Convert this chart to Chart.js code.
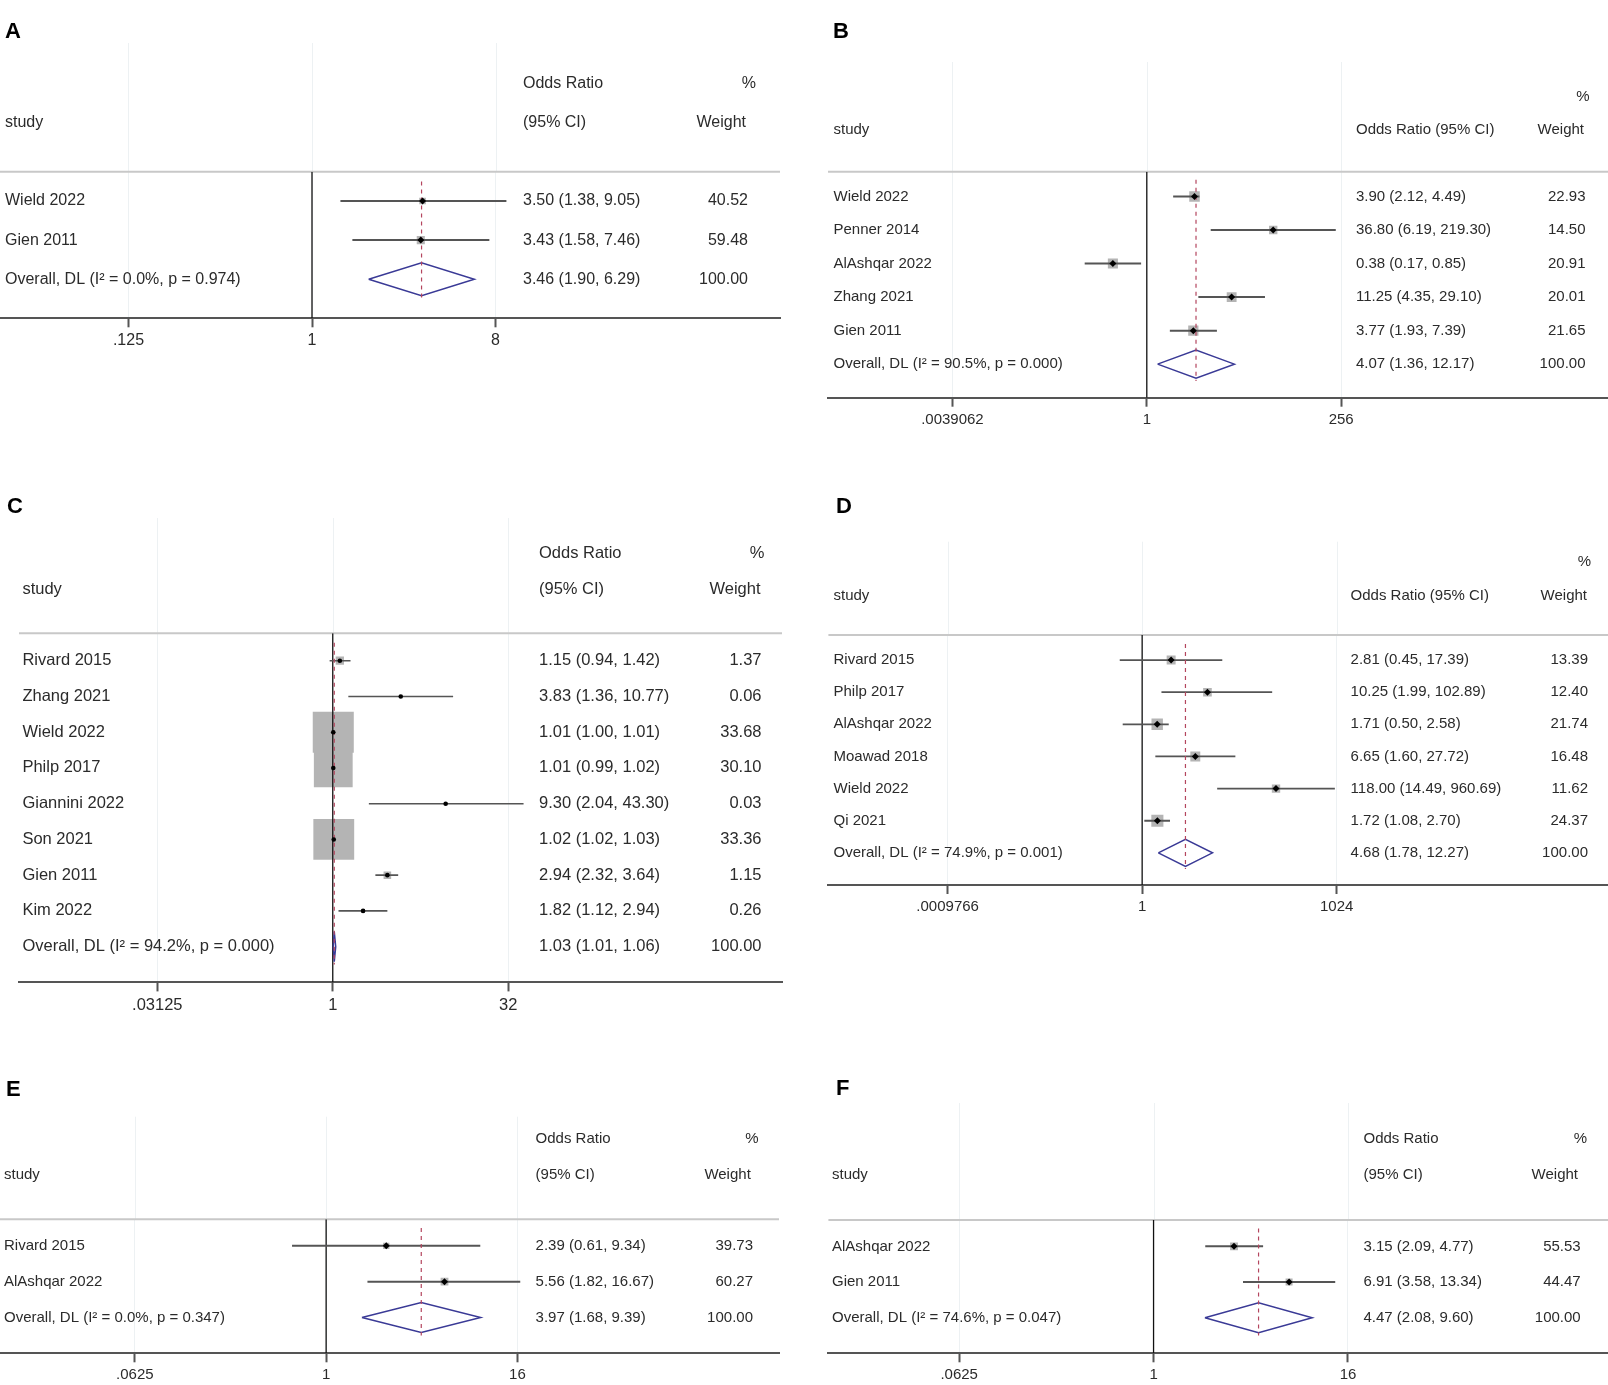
<!DOCTYPE html>
<html>
<head>
<meta charset="utf-8">
<script src="https://cdn.jsdelivr.net/npm/chart.js@4.4.0/dist/chart.umd.min.js"></script>
<style>
  html, body { margin: 0; padding: 0; background: #fff; }
  body { width: 1608px; height: 1385px; position: relative; overflow: hidden; }
  .panel { position: absolute; }
  .panel canvas { display: block; }
</style>
</head>
<body>
<div class="panel" id="pA"><canvas id="chartA"></canvas></div>
<div class="panel" id="pB"><canvas id="chartB"></canvas></div>
<div class="panel" id="pC"><canvas id="chartC"></canvas></div>
<div class="panel" id="pD"><canvas id="chartD"></canvas></div>
<div class="panel" id="pE"><canvas id="chartE"></canvas></div>
<div class="panel" id="pF"><canvas id="chartF"></canvas></div>
<script>
// ---- data ----
var studiesA = ['Wield 2022', 'Gien 2011'];
var orA = [3.50, 3.43];
var lowA = [1.38, 1.58];
var highA = [9.05, 7.46];
var weightA = [40.52, 59.48];
var overallA = [3.46, 1.90, 6.29];
var overallLabelA = 'Overall, DL (I\u00b2 = 0.0%, p = 0.974)';
var ticksA = [0.125, 1, 8];
var tickLabelsA = ['.125', '1', '8'];

var studiesB = ['Wield 2022', 'Penner 2014', 'AlAshqar 2022', 'Zhang 2021', 'Gien 2011'];
var orB = [3.90, 36.80, 0.38, 11.25, 3.77];
var lowB = [2.12, 6.19, 0.17, 4.35, 1.93];
var highB = [4.49, 219.30, 0.85, 29.10, 7.39];
var weightB = [22.93, 14.50, 20.91, 20.01, 21.65];
var overallB = [4.07, 1.36, 12.17];
var overallLabelB = 'Overall, DL (I\u00b2 = 90.5%, p = 0.000)';
var ticksB = [0.00390625, 1, 256];
var tickLabelsB = ['.0039062', '1', '256'];

var studiesC = ['Rivard 2015', 'Zhang 2021', 'Wield 2022', 'Philp 2017', 'Giannini 2022', 'Son 2021', 'Gien 2011', 'Kim 2022'];
var orC = [1.15, 3.83, 1.01, 1.01, 9.30, 1.02, 2.94, 1.82];
var lowC = [0.94, 1.36, 1.00, 0.99, 2.04, 1.02, 2.32, 1.12];
var highC = [1.42, 10.77, 1.01, 1.02, 43.30, 1.03, 3.64, 2.94];
var weightC = [1.37, 0.06, 33.68, 30.10, 0.03, 33.36, 1.15, 0.26];
var overallC = [1.03, 1.01, 1.06];
var overallLabelC = 'Overall, DL (I\u00b2 = 94.2%, p = 0.000)';
var ticksC = [0.03125, 1, 32];
var tickLabelsC = ['.03125', '1', '32'];

var studiesD = ['Rivard 2015', 'Philp 2017', 'AlAshqar 2022', 'Moawad 2018', 'Wield 2022', 'Qi 2021'];
var orD = [2.81, 10.25, 1.71, 6.65, 118.00, 1.72];
var lowD = [0.45, 1.99, 0.50, 1.60, 14.49, 1.08];
var highD = [17.39, 102.89, 2.58, 27.72, 960.69, 2.70];
var weightD = [13.39, 12.40, 21.74, 16.48, 11.62, 24.37];
var overallD = [4.68, 1.78, 12.27];
var overallLabelD = 'Overall, DL (I\u00b2 = 74.9%, p = 0.001)';
var ticksD = [0.0009765625, 1, 1024];
var tickLabelsD = ['.0009766', '1', '1024'];

var studiesE = ['Rivard 2015', 'AlAshqar 2022'];
var orE = [2.39, 5.56];
var lowE = [0.61, 1.82];
var highE = [9.34, 16.67];
var weightE = [39.73, 60.27];
var overallE = [3.97, 1.68, 9.39];
var overallLabelE = 'Overall, DL (I\u00b2 = 0.0%, p = 0.347)';
var ticksE = [0.0625, 1, 16];
var tickLabelsE = ['.0625', '1', '16'];

var studiesF = ['AlAshqar 2022', 'Gien 2011'];
var orF = [3.15, 6.91];
var lowF = [2.09, 3.58];
var highF = [4.77, 13.34];
var weightF = [55.53, 44.47];
var overallF = [4.47, 2.08, 9.60];
var overallLabelF = 'Overall, DL (I\u00b2 = 74.6%, p = 0.047)';
var ticksF = [0.0625, 1, 16];
var tickLabelsF = ['.0625', '1', '16'];

// ---- layout of each panel (page pixels) ----
var twoLineHead = function (y1, y2, xs, xo, xpct, xw) {
  return [['Odds Ratio', xo, y1, 'left'], ['%', xpct, y1, 'right'],
          ['study', xs, y2, 'left'], ['(95% CI)', xo, y2, 'left'], ['Weight', xw, y2, 'right']];
};
var layouts = {
  A: { box: [0, 0, 800, 370], plot: [0, 780, 171.7, 318.3], gridTop: 43, letter: [5, 38],
       font: 16, boxScale: 1.05, marker: 'rectRot', markerSize: 3.5, ciWidth: 2,
       cols: [5, 523, 748], xLog2: [-5.10, 7.65], yRange: [0.25, 4],
       header: twoLineHead(84, 123, 5, 523, 756, 746) },
  B: { box: [808, 0, 800, 440], plot: [828, 1608, 171.7, 397.7], gridTop: 62, letter: [833, 38],
       font: 15, boxScale: 2.2, marker: 'rectRot', markerSize: 3.5, ciWidth: 2,
       cols: [833.5, 1356, 1585.5], xLog2: [-13.12, 18.98], yRange: [0.26, 7],
       header: [['%', 1589.5, 97, 'right'], ['study', 833.5, 130, 'left'],
                ['Odds Ratio (95% CI)', 1356, 130, 'left'], ['Weight', 1584, 130, 'right']] },
  C: { box: [0, 470, 800, 560], plot: [19, 782, 633.3, 982.4], gridTop: 518, letter: [7, 513],
       font: 16.5, boxScale: 7.07, marker: 'circle', markerSize: 2.3, ciWidth: 1.6,
       cols: [22.4, 539, 761.5], xLog2: [-8.94, 12.8], yRange: [0.233, 10],
       header: twoLineHead(553, 589, 22.4, 539, 764.5, 760.5) },
  D: { box: [808, 470, 800, 460], plot: [828.4, 1608, 635, 885], gridTop: 541.7, letter: [836, 513],
       font: 15, boxScale: 2.45, marker: 'rectRot', markerSize: 3.5, ciWidth: 1.8,
       cols: [833.5, 1350.6, 1588], xLog2: [-16.13, 23.95], yRange: [0.22, 8],
       header: [['%', 1591, 562.3, 'right'], ['study', 833.5, 596, 'left'],
                ['Odds Ratio (95% CI)', 1350.6, 596, 'left'], ['Weight', 1587, 596, 'right']] },
  E: { box: [0, 1060, 800, 325], plot: [0, 779, 1219.3, 1353.3], gridTop: 1116.7, letter: [6, 1096],
       font: 15, boxScale: 1.0, marker: 'rectRot', markerSize: 3.5, ciWidth: 2,
       cols: [4, 535.6, 753], xLog2: [-6.82, 9.47], yRange: [0.26, 4],
       header: twoLineHead(1139.3, 1175, 4, 535.6, 758.5, 750.8) },
  F: { box: [808, 1060, 800, 325], plot: [828.4, 1608, 1220, 1353.3], gridTop: 1103, letter: [836, 1095],
       font: 15, boxScale: 1.05, marker: 'rectRot', markerSize: 3.5, ciWidth: 2,
       cols: [832, 1363.5, 1580.7], xLog2: [-6.69, 9.35], yRange: [0.26, 4],
       header: twoLineHead(1139.3, 1175, 832, 1363.5, 1587, 1578) }
};

var FONT = '"Liberation Sans", Arial, Helvetica, sans-serif';
Chart.defaults.font.family = FONT;

function fmt(v) { return v.toFixed(2); }

function forest(letter, d) {
  var L = layouts[letter];
  var ox = L.box[0], oy = L.box[1];
  var div = document.getElementById('p' + letter);
  div.style.left = ox + 'px';
  div.style.top = oy + 'px';
  var canvas = document.getElementById('chart' + letter);
  canvas.width = L.box[2];
  canvas.height = L.box[3];

  var n = d.studies.length + 1; // rows incl. overall
  var est = [], ci = [];
  d.studies.forEach(function (s, i) {
    est.push({ x: d.or[i], y: i + 1 });
    ci.push({ x: d.low[i], y: i + 1 }, { x: d.high[i], y: i + 1 }, { x: null, y: null });
  });
  var o = d.overall, h = 0.42;
  var diamond = [{ x: o[1], y: n }, { x: o[0], y: n - h }, { x: o[2], y: n },
                 { x: o[0], y: n + h }, { x: o[1], y: n }];

  var textPlugin = {
    id: 'forestText' + letter,
    beforeDatasetsDraw: function (chart) {
      var ctx = chart.ctx, a = chart.chartArea, xs = chart.scales.x;
      ctx.save();
      // faint grid continues up through the header block
      ctx.strokeStyle = '#edf1f3';
      ctx.lineWidth = 1;
      d.ticks.forEach(function (t) {
        var px = Math.round(xs.getPixelForValue(t)) + 0.5;
        ctx.beginPath();
        ctx.moveTo(px, L.gridTop - oy);
        ctx.lineTo(px, a.top);
        ctx.stroke();
      });
      // header rule
      ctx.strokeStyle = '#c8c8c8';
      ctx.lineWidth = 2;
      ctx.beginPath();
      ctx.moveTo(a.left, a.top);
      ctx.lineTo(a.right, a.top);
      ctx.stroke();
      ctx.restore();
    },
    afterDraw: function (chart) {
      var ctx = chart.ctx, ys = chart.scales.y;
      ctx.save();
      ctx.fillStyle = '#000';
      ctx.font = 'bold 22px ' + FONT;
      ctx.textBaseline = 'alphabetic';
      ctx.textAlign = 'left';
      ctx.fillText(letter, L.letter[0] - ox, L.letter[1] - oy);

      ctx.fillStyle = '#2b2b2b';
      ctx.font = L.font + 'px ' + FONT;
      ctx.textBaseline = 'middle';
      L.header.forEach(function (t) {
        ctx.textAlign = t[3];
        ctx.fillText(t[0], t[1] - ox, t[2] - oy);
      });
      var names = d.studies.concat([d.overallLabel]);
      var ors = d.or.concat([o[0]]), lows = d.low.concat([o[1]]), highs = d.high.concat([o[2]]);
      var ws = d.weight.map(fmt).concat(['100.00']);
      names.forEach(function (s, i) {
        var py = ys.getPixelForValue(i + 1);
        ctx.textAlign = 'left';
        ctx.fillText(s, L.cols[0] - ox, py);
        ctx.fillText(fmt(ors[i]) + ' (' + fmt(lows[i]) + ', ' + fmt(highs[i]) + ')', L.cols[1] - ox, py);
        ctx.textAlign = 'right';
        ctx.fillText(ws[i], L.cols[2] - ox, py);
      });
      ctx.restore();
    }
  };

  return new Chart(canvas.getContext('2d'), {
    type: 'scatter',
    data: {
      datasets: [
        // point estimates
        { type: 'scatter', data: est, pointStyle: L.marker, pointRadius: L.markerSize,
          backgroundColor: '#000', borderWidth: 0, order: 1 },
        // overall estimate, dashed
        { type: 'line', data: [{ x: o[0], y: 0.5 }, { x: o[0], y: n + 0.5 }],
          borderColor: '#b4455e', borderWidth: 1.2, borderDash: [4, 4], pointRadius: 0, order: 2 },
        // pooled diamond
        { type: 'line', data: diamond, borderColor: '#3a3a96', borderWidth: 1.5,
          pointRadius: 0, tension: 0, fill: false, order: 3 },
        // confidence intervals
        { type: 'line', data: ci, borderColor: '#555', borderWidth: L.ciWidth,
          pointRadius: 0, spanGaps: false, order: 4 },
        // line of no effect
        { type: 'line', data: [{ x: 1, y: L.yRange[0] }, { x: 1, y: L.yRange[1] }],
          borderColor: '#111', borderWidth: 1.3, pointRadius: 0, order: 5 },
        // weight boxes
        { type: 'scatter', data: est, pointStyle: 'rect',
          pointRadius: function (c) { return L.boxScale * Math.sqrt(d.weight[c.dataIndex]) / Math.SQRT2; },
          backgroundColor: '#b4b4b4', borderWidth: 0, order: 6 }
      ]
    },
    options: {
      responsive: false,
      animation: false,
      events: [],
      layout: {
        autoPadding: false,
        padding: {
          left: L.plot[0] - ox,
          right: ox + L.box[2] - L.plot[1],
          top: L.plot[2] - oy,
          bottom: 0
        }
      },
      plugins: { legend: { display: false }, tooltip: { enabled: false } },
      scales: {
        x: {
          type: 'logarithmic',
          bounds: 'data',
          min: Math.pow(2, L.xLog2[0]),
          max: Math.pow(2, L.xLog2[1]),
          afterBuildTicks: function (s) { s.ticks = d.ticks.map(function (v) { return { value: v }; }); },
          afterFit: function (s) { s.height = oy + L.box[3] - L.plot[3]; },
          ticks: {
            autoSkip: false, maxRotation: 0, padding: 4, color: '#2b2b2b',
            font: { size: L.font },
            callback: function (v, i) { return d.tickLabels[i]; }
          },
          grid: { color: '#edf1f3', lineWidth: 1, tickColor: '#555', tickWidth: 2, tickLength: 9 },
          border: { color: '#555', width: 2 }
        },
        y: {
          type: 'linear', display: false, reverse: true,
          min: L.yRange[0], max: L.yRange[1]
        }
      }
    },
    plugins: [textPlugin]
  });
}

forest('A', { studies: studiesA, or: orA, low: lowA, high: highA, weight: weightA,
  overall: overallA, overallLabel: overallLabelA, ticks: ticksA, tickLabels: tickLabelsA });
forest('B', { studies: studiesB, or: orB, low: lowB, high: highB, weight: weightB,
  overall: overallB, overallLabel: overallLabelB, ticks: ticksB, tickLabels: tickLabelsB });
forest('C', { studies: studiesC, or: orC, low: lowC, high: highC, weight: weightC,
  overall: overallC, overallLabel: overallLabelC, ticks: ticksC, tickLabels: tickLabelsC });
forest('D', { studies: studiesD, or: orD, low: lowD, high: highD, weight: weightD,
  overall: overallD, overallLabel: overallLabelD, ticks: ticksD, tickLabels: tickLabelsD });
forest('E', { studies: studiesE, or: orE, low: lowE, high: highE, weight: weightE,
  overall: overallE, overallLabel: overallLabelE, ticks: ticksE, tickLabels: tickLabelsE });
forest('F', { studies: studiesF, or: orF, low: lowF, high: highF, weight: weightF,
  overall: overallF, overallLabel: overallLabelF, ticks: ticksF, tickLabels: tickLabelsF });
</script>
</body>
</html>
